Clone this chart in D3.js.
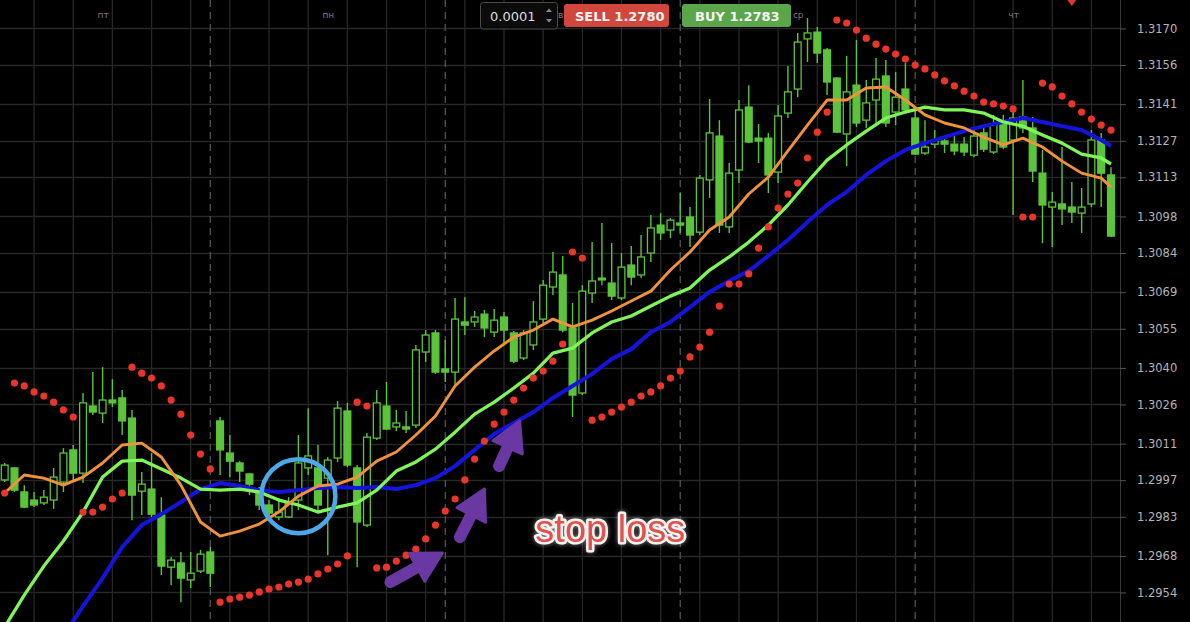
<!DOCTYPE html>
<html>
<head>
<meta charset="utf-8">
<script src="https://cdn.jsdelivr.net/npm/d3@7"></script>
<style>
  html, body { margin: 0; padding: 0; background: #000; }
  svg { display: block; }
</style>
</head>
<body>
<svg id="chart" width="1190" height="622"></svg>
<script>
// *** hourly candles: [open, high, low, close]
const candles = [
  [1.29971,1.30036,1.29963,1.30028],[1.30017,1.30020,1.29925,1.29932],[1.29925,1.29951,1.29863,1.29867],
  [1.29894,1.29925,1.29867,1.29875],[1.29883,1.29932,1.29875,1.29905],[1.29894,1.30017,1.29860,1.29982],
  [1.29963,1.30093,1.29925,1.30074],[1.30086,1.30105,1.29963,1.29997],[1.29997,1.30304,1.29959,1.30266],
  [1.30254,1.30384,1.30220,1.30231],[1.30227,1.30403,1.30189,1.30277],[1.30277,1.30357,1.30250,1.30266],
  [1.30285,1.30315,1.30143,1.30197],[1.30208,1.30239,1.29817,1.29913],[1.29928,1.30001,1.29837,1.29955],
  [1.29936,1.30074,1.29829,1.29840],[1.29837,1.29905,1.29607,1.29641],[1.29637,1.29676,1.29568,1.29664],
  [1.29653,1.29695,1.29503,1.29595],[1.29588,1.29695,1.29557,1.29614],[1.29622,1.29703,1.29614,1.29687],
  [1.29695,1.29714,1.29561,1.29614],[1.30197,1.30212,1.29990,1.30086],[1.30074,1.30143,1.29982,1.30043],
  [1.30036,1.30043,1.29963,1.30005],[1.29994,1.29997,1.29913,1.29955],[1.29921,1.29944,1.29856,1.29875],
  [1.29875,1.29894,1.29833,1.29844],[1.29829,1.29902,1.29817,1.29848],[1.29829,1.29905,1.29825,1.29883],
  [1.29894,1.30143,1.29856,1.30036],[1.30017,1.30246,1.29990,1.30063],[1.30017,1.30105,1.29848,1.29875],
  [1.29978,1.30059,1.29683,1.30047],[1.30055,1.30273,1.30040,1.30246],[1.30235,1.30266,1.30020,1.30028],
  [1.30017,1.30028,1.29637,1.29810],[1.29798,1.30151,1.29791,1.30135],[1.30131,1.30315,1.30124,1.30266],
  [1.30254,1.30346,1.30162,1.30166],[1.30174,1.30239,1.30158,1.30189],[1.30174,1.30235,1.30151,1.30166],
  [1.30181,1.30488,1.30170,1.30469],[1.30461,1.30545,1.30423,1.30526],[1.30534,1.30545,1.30377,1.30384],
  [1.30396,1.30507,1.30346,1.30384],[1.30384,1.30668,1.30334,1.30587],[1.30576,1.30671,1.30526,1.30564],
  [1.30576,1.30618,1.30557,1.30595],[1.30606,1.30622,1.30518,1.30553],[1.30537,1.30626,1.30518,1.30583],
  [1.30595,1.30614,1.30488,1.30545],[1.30534,1.30541,1.30419,1.30426],[1.30438,1.30545,1.30430,1.30534],
  [1.30488,1.30656,1.30469,1.30576],[1.30587,1.30737,1.30572,1.30717],[1.30710,1.30844,1.30679,1.30767],
  [1.30756,1.30829,1.30537,1.30545],[1.30553,1.30649,1.30212,1.30296],[1.30304,1.30717,1.30296,1.30694],
  [1.30687,1.30882,1.30649,1.30733],[1.30744,1.30955,1.30717,1.30737],[1.30725,1.30878,1.30660,1.30675],
  [1.30668,1.30840,1.30660,1.30786],[1.30794,1.30867,1.30717,1.30748],[1.30756,1.30909,1.30744,1.30825],
  [1.30840,1.30986,1.30806,1.30936],[1.30947,1.30993,1.30890,1.30917],[1.30928,1.30974,1.30897,1.30966],
  [1.30955,1.31070,1.30917,1.30947],[1.30978,1.31016,1.30863,1.30909],[1.30920,1.31139,1.30909,1.31127],
  [1.31120,1.31430,1.31051,1.31300],[1.31288,1.31349,1.30917,1.30947],[1.30940,1.31185,1.30917,1.31146],
  [1.31158,1.31426,1.31108,1.31388],[1.31399,1.31483,1.31261,1.31265],[1.31280,1.31334,1.31185,1.31269],
  [1.31280,1.31300,1.31070,1.31139],[1.31150,1.31407,1.31108,1.31365],[1.31376,1.31556,1.31357,1.31457],
  [1.31468,1.31683,1.31437,1.31648],[1.31660,1.31740,1.31572,1.31683],[1.31686,1.31706,1.31568,1.31606],
  [1.31618,1.31625,1.31445,1.31495],[1.31510,1.31514,1.31300,1.31303],[1.31296,1.31595,1.31173,1.31457],
  [1.31483,1.31656,1.31323,1.31338],[1.31349,1.31503,1.31319,1.31415],[1.31426,1.31587,1.31330,1.31506],
  [1.31518,1.31579,1.31323,1.31338],[1.31380,1.31533,1.31330,1.31437],[1.31468,1.31568,1.31380,1.31388],
  [1.31357,1.31388,1.31215,1.31219],[1.31223,1.31349,1.31215,1.31246],[1.31257,1.31311,1.31242,1.31273],
  [1.31269,1.31284,1.31223,1.31257],[1.31257,1.31300,1.31215,1.31231],[1.31257,1.31284,1.31212,1.31227],
  [1.31215,1.31319,1.31208,1.31288],[1.31300,1.31319,1.31227,1.31238],[1.31227,1.31369,1.31219,1.31334],
  [1.31338,1.31369,1.31238,1.31246],[1.31273,1.31388,1.30986,1.31357],[1.31361,1.31503,1.31300,1.31319],
  [1.31319,1.31361,1.31112,1.31154],[1.31146,1.31235,1.30878,1.31024],[1.31016,1.31074,1.30863,1.31035],
  [1.31028,1.31246,1.30947,1.31009],[1.31016,1.31112,1.30955,1.30997],[1.30993,1.31089,1.30917,1.31016],
  [1.31028,1.31311,1.31016,1.31273],[1.31273,1.31300,1.31016,1.31146],[1.31139,1.31169,1.30901,1.30905]
];

// *** parabolic SAR, one dot per candle
const sar = [
  1.29921,1.30342,1.30331,1.30308,1.30292,1.30269,1.30239,1.30212,1.29848,1.29848,
  1.29867,1.29898,1.29921,1.30403,1.30380,1.30361,1.30331,1.30277,1.30223,1.30143,
  1.30070,1.30013,1.29503,1.29515,1.29522,1.29530,1.29542,1.29553,1.29561,1.29572,
  1.29580,1.29591,1.29611,1.29630,1.29649,1.29680,1.30269,1.30254,1.29634,1.29637,
  1.29660,1.29683,1.29706,1.29745,1.29798,1.29852,1.29898,1.29971,1.30051,1.30120,
  1.30185,1.30231,1.30277,1.30323,1.30361,1.30388,1.30426,1.30491,1.30844,1.30821,
  1.30200,1.30212,1.30231,1.30250,1.30269,1.30292,1.30308,1.30331,1.30361,1.30388,
  1.30442,1.30480,1.30537,1.30637,1.30721,1.30721,1.30760,1.30859,1.30940,1.31012,
  1.31066,1.31108,1.31204,1.31303,1.31380,1.31732,1.31721,1.31694,1.31663,1.31640,
  1.31621,1.31602,1.31583,1.31560,1.31545,1.31522,1.31499,1.31480,1.31460,1.31441,
  1.31418,1.31411,1.31403,1.31392,1.30978,1.30978,1.31491,1.31476,1.31441,1.31411,
  1.31380,1.31353,1.31330,1.31311
];

// *** moving averages, read every second candle
const maIndex = d3.range(0, 113, 2).concat([113]);
const maFast = [
  1.29921,1.29990,1.29978,1.29951,1.29982,1.30036,1.30105,1.30112,1.30059,1.29951,
  1.29810,1.29756,1.29775,1.29802,1.29848,1.29909,1.29948,1.29955,1.29982,1.30043,
  1.30078,1.30143,1.30216,1.30331,1.30403,1.30465,1.30518,1.30545,1.30587,1.30557,
  1.30583,1.30618,1.30656,1.30694,1.30775,1.30844,1.30928,1.30978,1.31066,1.31131,
  1.31231,1.31330,1.31426,1.31426,1.31472,1.31476,1.31426,1.31369,1.31338,1.31319,
  1.31284,1.31254,1.31280,1.31246,1.31192,1.31146,1.31127,1.31093
];
const maMid = [
  1.29408,1.29530,1.29641,1.29737,1.29848,1.29982,1.30043,1.30047,1.30013,1.29978,
  1.29936,1.29932,1.29936,1.29925,1.29894,1.29875,1.29848,1.29867,1.29883,1.29932,
  1.30005,1.30040,1.30089,1.30154,1.30223,1.30269,1.30323,1.30380,1.30457,1.30476,
  1.30534,1.30576,1.30599,1.30637,1.30675,1.30706,1.30775,1.30825,1.30882,1.30947,
  1.31024,1.31112,1.31196,1.31254,1.31307,1.31357,1.31380,1.31399,1.31388,1.31388,
  1.31376,1.31342,1.31326,1.31292,1.31261,1.31219,1.31204,1.31181
];
const maSlow = [
  null,null,null,1.29373,1.29488,1.29595,1.29714,1.29798,1.29840,1.29886,
  1.29936,1.29959,1.29948,1.29932,1.29925,1.29932,1.29940,1.29944,1.29940,1.29944,
  1.29936,1.29951,1.29978,1.30024,1.30086,1.30147,1.30189,1.30231,1.30285,1.30331,
  1.30377,1.30434,1.30472,1.30537,1.30576,1.30633,1.30691,1.30733,1.30771,1.30829,
  1.30890,1.30959,1.31024,1.31074,1.31139,1.31192,1.31235,1.31261,1.31284,1.31307,
  1.31326,1.31342,1.31357,1.31342,1.31326,1.31311,1.31273,1.31250
];

// *** axes
const priceLabels = ["1.2954","1.2968","1.2983","1.2997","1.3011","1.3026","1.3040","1.3055",
                     "1.3069","1.3084","1.3098","1.3113","1.3127","1.3141","1.3156","1.3170"];
const dayNames = ["пт", "пн", "вт", "ср", "чт"];
const dayLabelIndex = [10, 33, 57, 81, 103];
const dayStartIndex = [21, 45, 69, 93];
const gridIndex = d3.range(3, 114, 4);

// *** trade panel & annotations
const stepValue = "0.0001", sellPrice = "1.2780", buyPrice = "1.2783";
const signalIndex = 109;
const circleMark = [30, 1.29909];
const arrowTails = [[39.4, 1.29580], [46.5, 1.29752], [50.5, 1.30024]];
const arrowTips  = [[44.7, 1.29691], [49.0, 1.29936], [52.6, 1.30197]];
const noteAnchor = [54.2, 1.29733];
const noteText = "stop loss";

// *** set up svg
const W = 1190, H = 622, plotRight = 1120;
const green = "#5cc43a";

const x = d3.scaleLinear().domain([0, 113]).range([4.7, 1111]);
const y = d3.scaleLinear().domain([1.29538, 1.31698]).range([593, 29]);

const svg = d3.select("#chart");
svg.append("rect").attr("width", W).attr("height", H).attr("fill", "#000");

const defs = svg.append("defs");
defs.append("clipPath").attr("id", "plot")
    .append("rect").attr("width", plotRight).attr("height", H);
const glow = defs.append("filter").attr("id", "glow")
    .attr("x", "-10%").attr("y", "-30%").attr("width", "120%").attr("height", "160%");
glow.append("feGaussianBlur").attr("in", "SourceAlpha").attr("stdDeviation", 2.5).attr("result", "b");
glow.append("feFlood").attr("flood-color", "#bbbbbb").attr("flood-opacity", 0.7);
glow.append("feComposite").attr("in2", "b").attr("operator", "in").attr("result", "g");
const gm = glow.append("feMerge");
gm.append("feMergeNode").attr("in", "g");
gm.append("feMergeNode").attr("in", "SourceGraphic");

const grid = svg.append("g").attr("clip-path", "url(#plot)");
grid.selectAll(".hgrid").data(priceLabels).join("line")
    .attr("x1", 0).attr("x2", plotRight)
    .attr("y1", d => Math.round(y(+d)) + 0.5).attr("y2", d => Math.round(y(+d)) + 0.5)
    .attr("stroke", "#272727").attr("stroke-width", 1.3);
grid.selectAll(".vgrid").data(gridIndex).join("line")
    .attr("x1", d => x(d)).attr("x2", d => x(d))
    .attr("y1", 0).attr("y2", H)
    .attr("stroke", "#272727").attr("stroke-width", 1.3);
grid.selectAll(".day").data(dayStartIndex).join("line")
    .attr("x1", d => x(d)).attr("x2", d => x(d))
    .attr("y1", 0).attr("y2", H)
    .attr("stroke", "#5a5a5a").attr("stroke-width", 1.2)
    .attr("stroke-dasharray", "7,5");

// day names along the top
const dayAxis = d3.axisTop(x).tickValues(dayLabelIndex)
    .tickFormat((d, i) => dayNames[i]).tickSize(0).tickPadding(0);
const gDay = svg.append("g").attr("transform", "translate(0,18)").call(dayAxis);
gDay.select(".domain").remove();
gDay.selectAll("text").attr("fill", "#7a7a7a")
    .style("font", "9px 'DejaVu Sans', sans-serif");

// price axis on the right
const priceAxis = d3.axisRight(y).tickValues(priceLabels.map(Number))
    .tickFormat((d, i) => priceLabels[i]).tickSize(6).tickPadding(11);
const gPrice = svg.append("g").attr("transform", "translate(" + plotRight + ",0)").call(priceAxis);
gPrice.select(".domain").attr("stroke", "#3a3a3a").attr("d", "M0.5,0V" + H);
gPrice.selectAll(".tick line").attr("stroke", "#555");
gPrice.selectAll("text").attr("fill", "#b4b4b4")
    .style("font", "11.5px 'DejaVu Sans', sans-serif");

// *** candles
const plot = svg.append("g").attr("clip-path", "url(#plot)");
const candle = plot.selectAll(".candle").data(candles).join("g").attr("class", "candle");
candle.append("line")
    .attr("x1", (d, i) => x(i)).attr("x2", (d, i) => x(i))
    .attr("y1", d => y(d[1])).attr("y2", d => y(d[2]))
    .attr("stroke", green).attr("stroke-width", 1.4);
candle.append("rect")
    .attr("x", (d, i) => x(i) - 3.4)
    .attr("width", 6.8)
    .attr("y", d => y(Math.max(d[0], d[3])))
    .attr("height", d => Math.max(1.5, Math.abs(y(d[0]) - y(d[3]))))
    .attr("fill", d => d[3] < d[0] ? green : "#000")
    .attr("stroke", green).attr("stroke-width", 1.3);

// *** moving averages
function maLine(values) {
    return d3.line()
        .defined((d, i) => values[i] != null)
        .x((d) => x(d))
        .y((d, i) => y(values[i]))(maIndex);
}
plot.append("path").attr("d", maLine(maSlow))
    .attr("fill", "none").attr("stroke", "#1414dc").attr("stroke-width", 4)
    .attr("stroke-linejoin", "round");
plot.append("path").attr("d", maLine(maMid))
    .attr("fill", "none").attr("stroke", "#7ff55a").attr("stroke-width", 3.3)
    .attr("stroke-linejoin", "round");
plot.append("path").attr("d", maLine(maFast))
    .attr("fill", "none").attr("stroke", "#f0923c").attr("stroke-width", 2.9)
    .attr("stroke-linejoin", "round");

// *** SAR dots
plot.selectAll(".sar").data(sar).join("circle")
    .attr("cx", (d, i) => x(i)).attr("cy", d => y(d))
    .attr("r", 3.6).attr("fill", "#ea352b");

// sell signal marker at the top edge
const sx = x(signalIndex);
plot.append("path")
    .attr("d", "M" + (sx - 6) + ",-2L" + (sx + 6) + ",-2L" + sx + ",6Z")
    .attr("fill", "#d83a2c");

// *** annotations
const ann = svg.append("g");
ann.append("circle")
    .attr("cx", x(circleMark[0])).attr("cy", y(circleMark[1])).attr("r", 37)
    .attr("fill", "none").attr("stroke", "#4ca8e8").attr("stroke-width", 4.5);

arrowTails.forEach(function(t, k) {
    const p = arrowTips[k];
    const tx = x(t[0]), ty = y(t[1]), px = x(p[0]), py = y(p[1]);
    const len = Math.hypot(px - tx, py - ty);
    const dx = (px - tx) / len, dy = (py - ty) / len;
    const headLen = 29, headHalf = 16;
    const bx = px - dx * headLen, by = py - dy * headLen;
    ann.append("line")
        .attr("x1", tx).attr("y1", ty)
        .attr("x2", bx + dx * 4).attr("y2", by + dy * 4)
        .attr("stroke", "#6a38a2").attr("stroke-width", 12).attr("stroke-linecap", "round");
    ann.append("path")
        .attr("d", "M" + px + "," + py +
                   "L" + (bx - dy * headHalf) + "," + (by + dx * headHalf) +
                   "L" + (bx + dy * headHalf) + "," + (by - dx * headHalf) + "Z")
        .attr("fill", "#6a38a2").attr("stroke", "#6a38a2")
        .attr("stroke-width", 3).attr("stroke-linejoin", "round");
});

ann.append("text")
    .attr("x", x(noteAnchor[0])).attr("y", y(noteAnchor[1]))
    .text(noteText)
    .attr("fill", "#e0524c")
    .attr("stroke", "#f8f2f2").attr("stroke-width", 5).attr("stroke-linejoin", "round")
    .attr("paint-order", "stroke")
    .attr("filter", "url(#glow)")
    .style("font", "38px 'Liberation Sans', Arial, sans-serif");

// *** trade panel
const panel = svg.append("g").style("font-family", "'DejaVu Sans', sans-serif");
panel.append("rect").attr("x", 480.5).attr("y", 2.5).attr("width", 77).attr("height", 26.5)
    .attr("rx", 3).attr("fill", "#0b0b0b").attr("stroke", "#4a4a4a");
panel.append("text").attr("x", 490).attr("y", 21).text(stepValue)
    .attr("fill", "#dcdcdc").style("font-size", "13px");
panel.append("path").attr("d", "M546,12L549,8.5L552,12Z").attr("fill", "#888");
panel.append("path").attr("d", "M546,19L549,22.5L552,19Z").attr("fill", "#888");

panel.append("rect").attr("x", 564).attr("y", 4).attr("width", 105).attr("height", 23)
    .attr("rx", 3).attr("fill", "#d2473d");
panel.append("text").attr("x", 575).attr("y", 20.5).attr("fill", "#f6f6f6")
    .style("font-size", "13px").style("font-weight", "bold")
    .text("SELL " + sellPrice);

panel.append("rect").attr("x", 682).attr("y", 4).attr("width", 109).attr("height", 23)
    .attr("rx", 3).attr("fill", "#5ba64a");
panel.append("text").attr("x", 695).attr("y", 20.5).attr("fill", "#f6f6f6")
    .style("font-size", "13px").style("font-weight", "bold")
    .text("BUY " + buyPrice);
</script>
</body>
</html>
